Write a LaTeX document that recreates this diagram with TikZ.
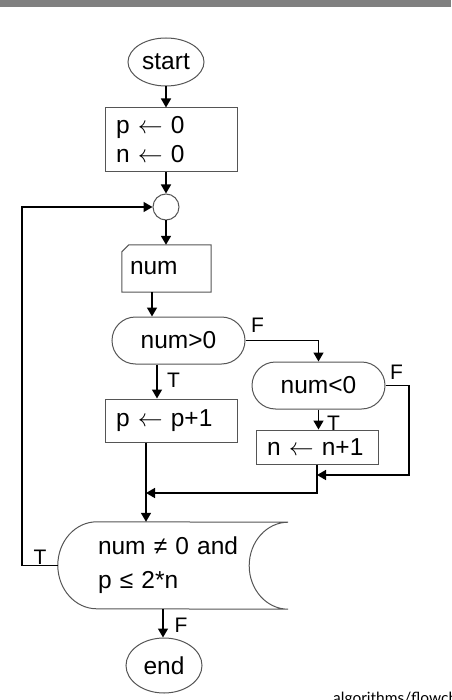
\documentclass[tikz,border=0pt]{standalone}
\usepackage{fontspec}
\setmainfont{Liberation Sans}
\newfontfamily\footfont{Lato}
\usetikzlibrary{shapes.geometric,shapes.misc,arrows.meta,positioning,calc}
\definecolor{barcol}{RGB}{128,128,128}
\definecolor{edgecol}{RGB}{85,85,85}
\newcommand{\assignarrow}{$\leftarrow$}

\begin{document}
\begin{tikzpicture}[
x=1pt,y=1pt,
font=\fontsize{24.5}{29}\selectfont,
edge/.style={
  draw=edgecol,
  line width=1pt
},
term/.style={
  edge,
  ellipse,
  inner sep=0pt,
  minimum width=76pt
},
proc/.style={
  edge,
  rectangle,
  inner xsep=11pt,
  inner ysep=0pt,
  align=left
},
dec/.style={
  edge,
  rounded rectangle,
  inner sep=0pt,
  minimum width=133pt,
  minimum height=47pt
},
junc/.style={
  edge,
  circle,
  inner sep=0pt,
  minimum size=26pt
},
lab/.style={
  inner sep=0pt,
  font=\fontsize{21}{24}\selectfont
},
arr/.style={
  line width=1.5pt,
  -{Triangle[width=10pt,length=9pt]}
}
]
\useasboundingbox (0,0) rectangle (451,-700);
\fill[barcol] (0,0) rectangle (451,-7);

\node[term,minimum height=48pt] (start) at (166,-62) {start};
\node[proc,text width=110pt,minimum height=64pt] (init) at (171,-140)
  {p \assignarrow{} 0\\n \assignarrow{} 0};
\node[junc] (junc) at (166,-207) {};
\node[inner xsep=8pt,inner ysep=0pt,text width=73pt,minimum height=47pt,align=left] (num) at (166.5,-268.5)
  {num};
\draw[edge] ([yshift=-7pt]num.north west) -- ([xshift=7pt]num.north west)
  -- (num.north east) -- (num.south east) -- (num.south west) -- cycle;
\node[dec] (dec1) at (178.5,-340.5) {num>0};
\node[dec] (dec2) at (318.5,-385.5) {num<0};
\node[proc,text width=110pt,minimum height=43pt] (boxp) at (171,-420.5)
  {p \assignarrow{} p+1};
\node[proc,text width=100pt,minimum height=34pt] (boxn) at (317,-447)
  {n \assignarrow{} n+1};
\node[inner sep=0pt,minimum width=230pt,minimum height=87pt,text width=150pt,align=left] (cond) at (173,-565.5)
  {num ≠ 0 and\\[5pt]p ≤ 2*n};
\draw[edge] ($(cond.north west)+(39,0)$) arc[start angle=90,end angle=270,x radius=39,y radius=43.5]
  -- (cond.south east) arc[start angle=270,end angle=90,x radius=39,y radius=43.5] -- cycle;
\node[term,minimum height=55pt] (stop) at (164,-665.5) {end};

\coordinate (c1) at (152,0);
\coordinate (c2) at (157,0);
\coordinate (c3) at (146,0);
\coordinate (c4) at (163,0);
\coordinate (f2) at (409,-475);
\coordinate (m1) at (146,-493);
\coordinate (lp) at (22,-207);

\draw[arr] (start) -- (start |- init.north);
\draw[arr] (start |- init.south) -- (junc);
\draw[arr] (junc) -- (junc |- num.north);
\draw[arr] (c1 |- num.south) -- (c1 |- dec1.north);
\draw[arr] (c2 |- dec1.south) -- (c2 |- boxp.north);
\draw[arr] (dec1.east) -| (dec2.north);
\draw[arr] (dec2.south) -- (dec2.south |- boxn.north);
\draw[arr] (dec2.east) -| (f2) -- (f2 -| boxn.south);
\draw[arr] (boxn.south) |- (m1);
\draw[arr] (c3 |- boxp.south) -- (c3 |- cond.north);
\draw[arr] (c4 |- cond.south) -- (c4 |- stop.north);
\draw[arr] (cond.west) -| (lp) -- (junc.west);

\node[lab] (t1) at (173.5,-380) {T};
\node[lab] (f1) at (257.5,-325) {F};
\node[lab] (t2) at (333.5,-423.5) {T};
\node[lab] (f3) at (396.5,-372.5) {F};
\node[lab] (f4) at (181,-625) {F};
\node[lab] (t3) at (40,-557) {T};

\node[anchor=base west,inner sep=0pt,font=\footfont\fontsize{15.5}{18}\selectfont] (src) at (333,-703)
  {algorithms/flowch};
\end{tikzpicture}
\end{document}
